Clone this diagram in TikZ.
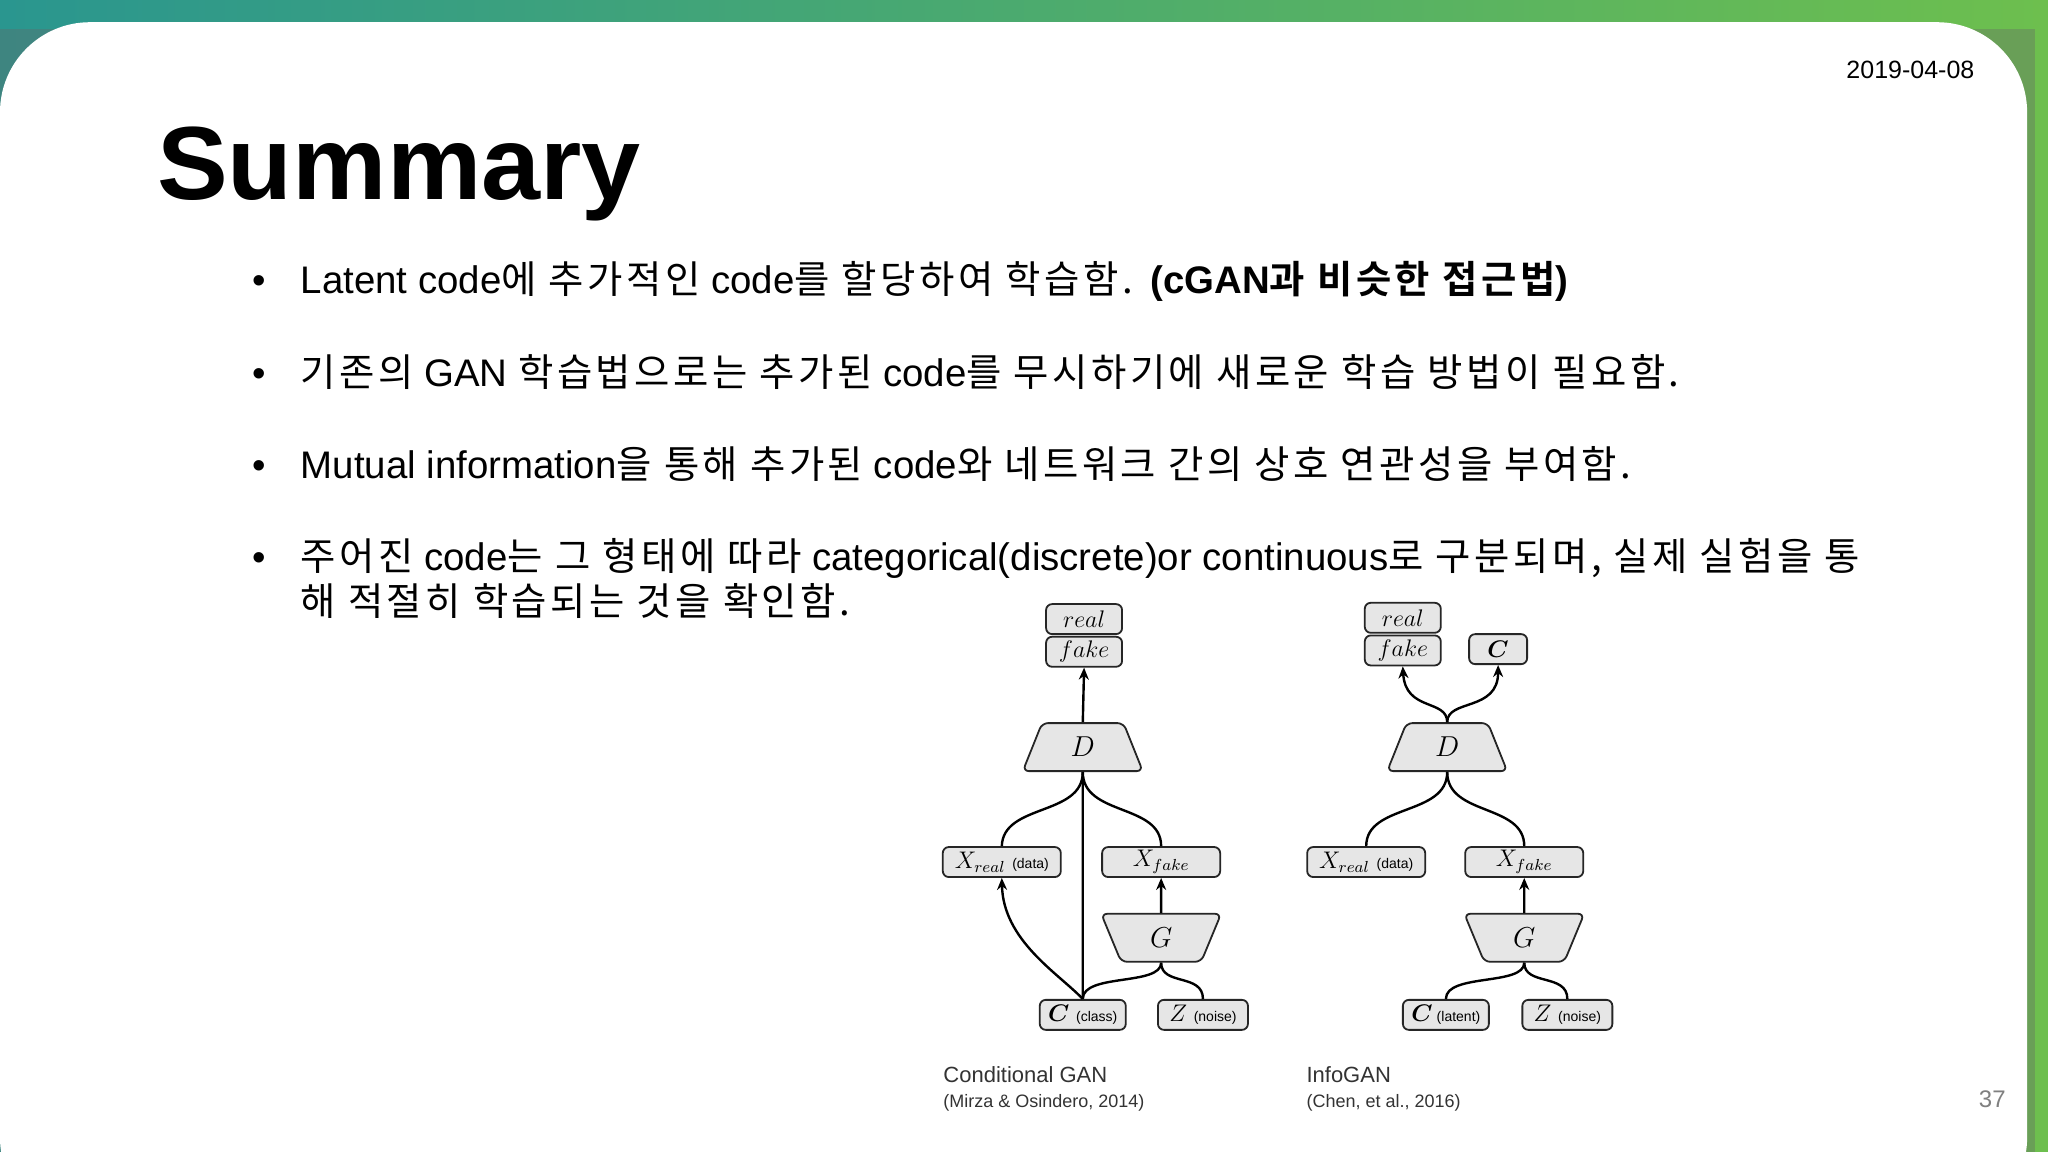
\documentclass[tikz,border=0pt]{standalone}
\usepackage{amsmath}
\usepackage{fontspec}
\setmainfont{Liberation Sans}
\newfontfamily\kr{Noto Sans CJK KR}[BoldFont={* Bold},LetterSpace=9]
\usetikzlibrary{shapes.geometric,arrows.meta}
\definecolor{bandL}{HTML}{2A968F}
\definecolor{bandR}{HTML}{6DBF4E}
\definecolor{boxfill}{HTML}{E6E6E6}
\tikzset{
  x=0.653pt,y=-0.653pt,
  lbl/.style={draw=black!85,line width=0.9pt,fill=boxfill,rounded corners=3pt,minimum height=15pt,inner sep=1pt,font=\fontsize{12}{12}\selectfont},
  trap/.style={draw=black!85,line width=0.9pt,fill=boxfill,trapezium,trapezium stretches=true,trapezium angle=75,rounded corners=3pt,minimum width=60pt,minimum height=24pt,font=\fontsize{15}{15}\selectfont},
  conn/.style={line width=1.2pt},
  arr/.style={conn,-{Stealth[length=6pt,width=5pt]}},
  bul/.style={anchor=base west,inner sep=0,font=\fontsize{19.2}{22}\selectfont}
}
\newcommand{\kk}[1]{{\kr #1}}
\newcommand{\smtxt}{\fontsize{7}{7}\selectfont}
\begin{document}
\begin{tikzpicture}
\useasboundingbox (0,0) rectangle (1568,882);
\shade[left color=bandL,right color=bandR] (0,0) rectangle (1568,882);
\fill[black!60,opacity=0.35] (0,22) rectangle (1558,882);
\fill[white,rounded corners=45pt] (0,17) rectangle (1552,940);
% date & title
\node[anchor=base east,font=\fontsize{12.5}{14}\selectfont] (date) at (1517,60) {2019-04-08};
\node[anchor=base west,inner sep=0,font=\bfseries\fontsize{52}{56}\selectfont] (title) at (120,153) {\scalebox{1.02}[1]{Summary}};
% bullets
\foreach \yy/\nm in {216/b1,287/b2,357/b3,428/b4}{\node[bul] (\nm) at (193,\yy+9) {\textbullet};}
\node[bul] (t1) at (230,225) {Latent code\kk{에 추가적인} code\kk{를 할당하여 학습함.} \textbf{(cGAN\kk{과 비슷한 접근법})}};
\node[bul] (t2) at (230,296) {\kk{기존의} GAN \kk{학습법으로는 추가된} code\kk{를 무시하기에 새로운 학습 방법이 필요함.}};
\node[bul] (t3) at (230,366) {Mutual information\kk{을 통해 추가된} code\kk{와 네트워크 간의 상호 연관성을 부여함.}};
\node[bul] (t4) at (230,437) {\kk{주어진} code\kk{는 그 형태에 따라} categorical(discrete)or continuous\kk{로 구분되며, 실제 실험을 통}};
\node[bul] (t5) at (230,471) {\kk{해 적절히 학습되는 것을 확인함.}};
% ---------- Conditional GAN ----------
\node[lbl,minimum width=38pt] (real1) at (830,474) {$real$};
\node[lbl,minimum width=38pt] (fake1) at (830,499) {$fake$};
\node[trap] (D1) at (829,572) {$D$};
\node[lbl,minimum width=59pt] (xr1) at (767,660) {$X_{real}$ {\smtxt(data)}};
\node[lbl,minimum width=59pt] (xf1) at (889,660) {$X_{fake}$};
\node[trap,shape border rotate=180] (G1) at (889,718) {$G$};
\node[lbl,minimum width=43pt] (c1) at (829,777) {$\boldsymbol{C}$ {\smtxt(class)}};
\node[lbl,minimum width=45pt] (z1) at (921,777) {$Z$ {\smtxt(noise)}};
\draw[arr] (D1.north) -- (fake1.south);
\draw[conn] (D1.south) .. controls (829,625) and (768,615) .. (xr1.north);
\draw[conn] (D1.south) .. controls (829,625) and (889,615) .. (xf1.north);
\draw[conn] (D1.south) -- (c1.north);
\draw[arr] (c1.north) .. controls (810,745) and (768,720) .. (xr1.south);
\draw[arr] (G1.north) -- (xf1.south);
\draw[conn] (G1.south) .. controls (889,755) and (829,745) .. (c1.north);
\draw[conn] (G1.south) .. controls (889,755) and (921,745) .. (z1.north);
% ---------- InfoGAN ----------
\node[lbl,minimum width=38pt] (real2) at (1074,473) {$real$};
\node[lbl,minimum width=38pt] (fake2) at (1074,498) {$fake$};
\node[lbl,minimum width=29pt] (cc2) at (1147,497) {$\boldsymbol{C}$};
\node[trap] (D2) at (1108,572) {$D$};
\node[lbl,minimum width=59pt] (xr2) at (1046,660) {$X_{real}$ {\smtxt(data)}};
\node[lbl,minimum width=59pt] (xf2) at (1167,660) {$X_{fake}$};
\node[trap,shape border rotate=180] (G2) at (1167,718) {$G$};
\node[lbl,minimum width=43pt] (c2) at (1107,777) {$\boldsymbol{C}$\,{\smtxt(latent)}};
\node[lbl,minimum width=45pt] (z2) at (1200,777) {$Z$ {\smtxt(noise)}};
\draw[arr] (D2.north) .. controls (1108,535) and (1076,545) .. (fake2.south);
\draw[arr] (D2.north) .. controls (1108,535) and (1147,545) .. (cc2.south);
\draw[conn] (D2.south) .. controls (1108,625) and (1046,615) .. (xr2.north);
\draw[conn] (D2.south) .. controls (1108,625) and (1167,615) .. (xf2.north);
\draw[arr] (G2.north) -- (xf2.south);
\draw[conn] (G2.south) .. controls (1167,755) and (1107,745) .. (c2.north);
\draw[conn] (G2.south) .. controls (1167,755) and (1200,745) .. (z2.north);
% captions
\node[anchor=base west,inner sep=0,font=\fontsize{11}{12}\selectfont,text=black!80] (cap1) at (722,829) {Conditional GAN};
\node[anchor=base west,inner sep=0,font=\fontsize{9}{10}\selectfont,text=black!80] (cap1b) at (722,848) {(Mirza \& Osindero, 2014)};
\node[anchor=base west,inner sep=0,font=\fontsize{11}{12}\selectfont,text=black!80] (cap2) at (1000,829) {InfoGAN};
\node[anchor=base west,inner sep=0,font=\fontsize{9}{10}\selectfont,text=black!80] (cap2b) at (1000,848) {(Chen, et al., 2016)};
\node[anchor=base east,font=\fontsize{12}{13}\selectfont,text=black!50] (pg) at (1541,848) {37};
\end{tikzpicture}
\end{document}
